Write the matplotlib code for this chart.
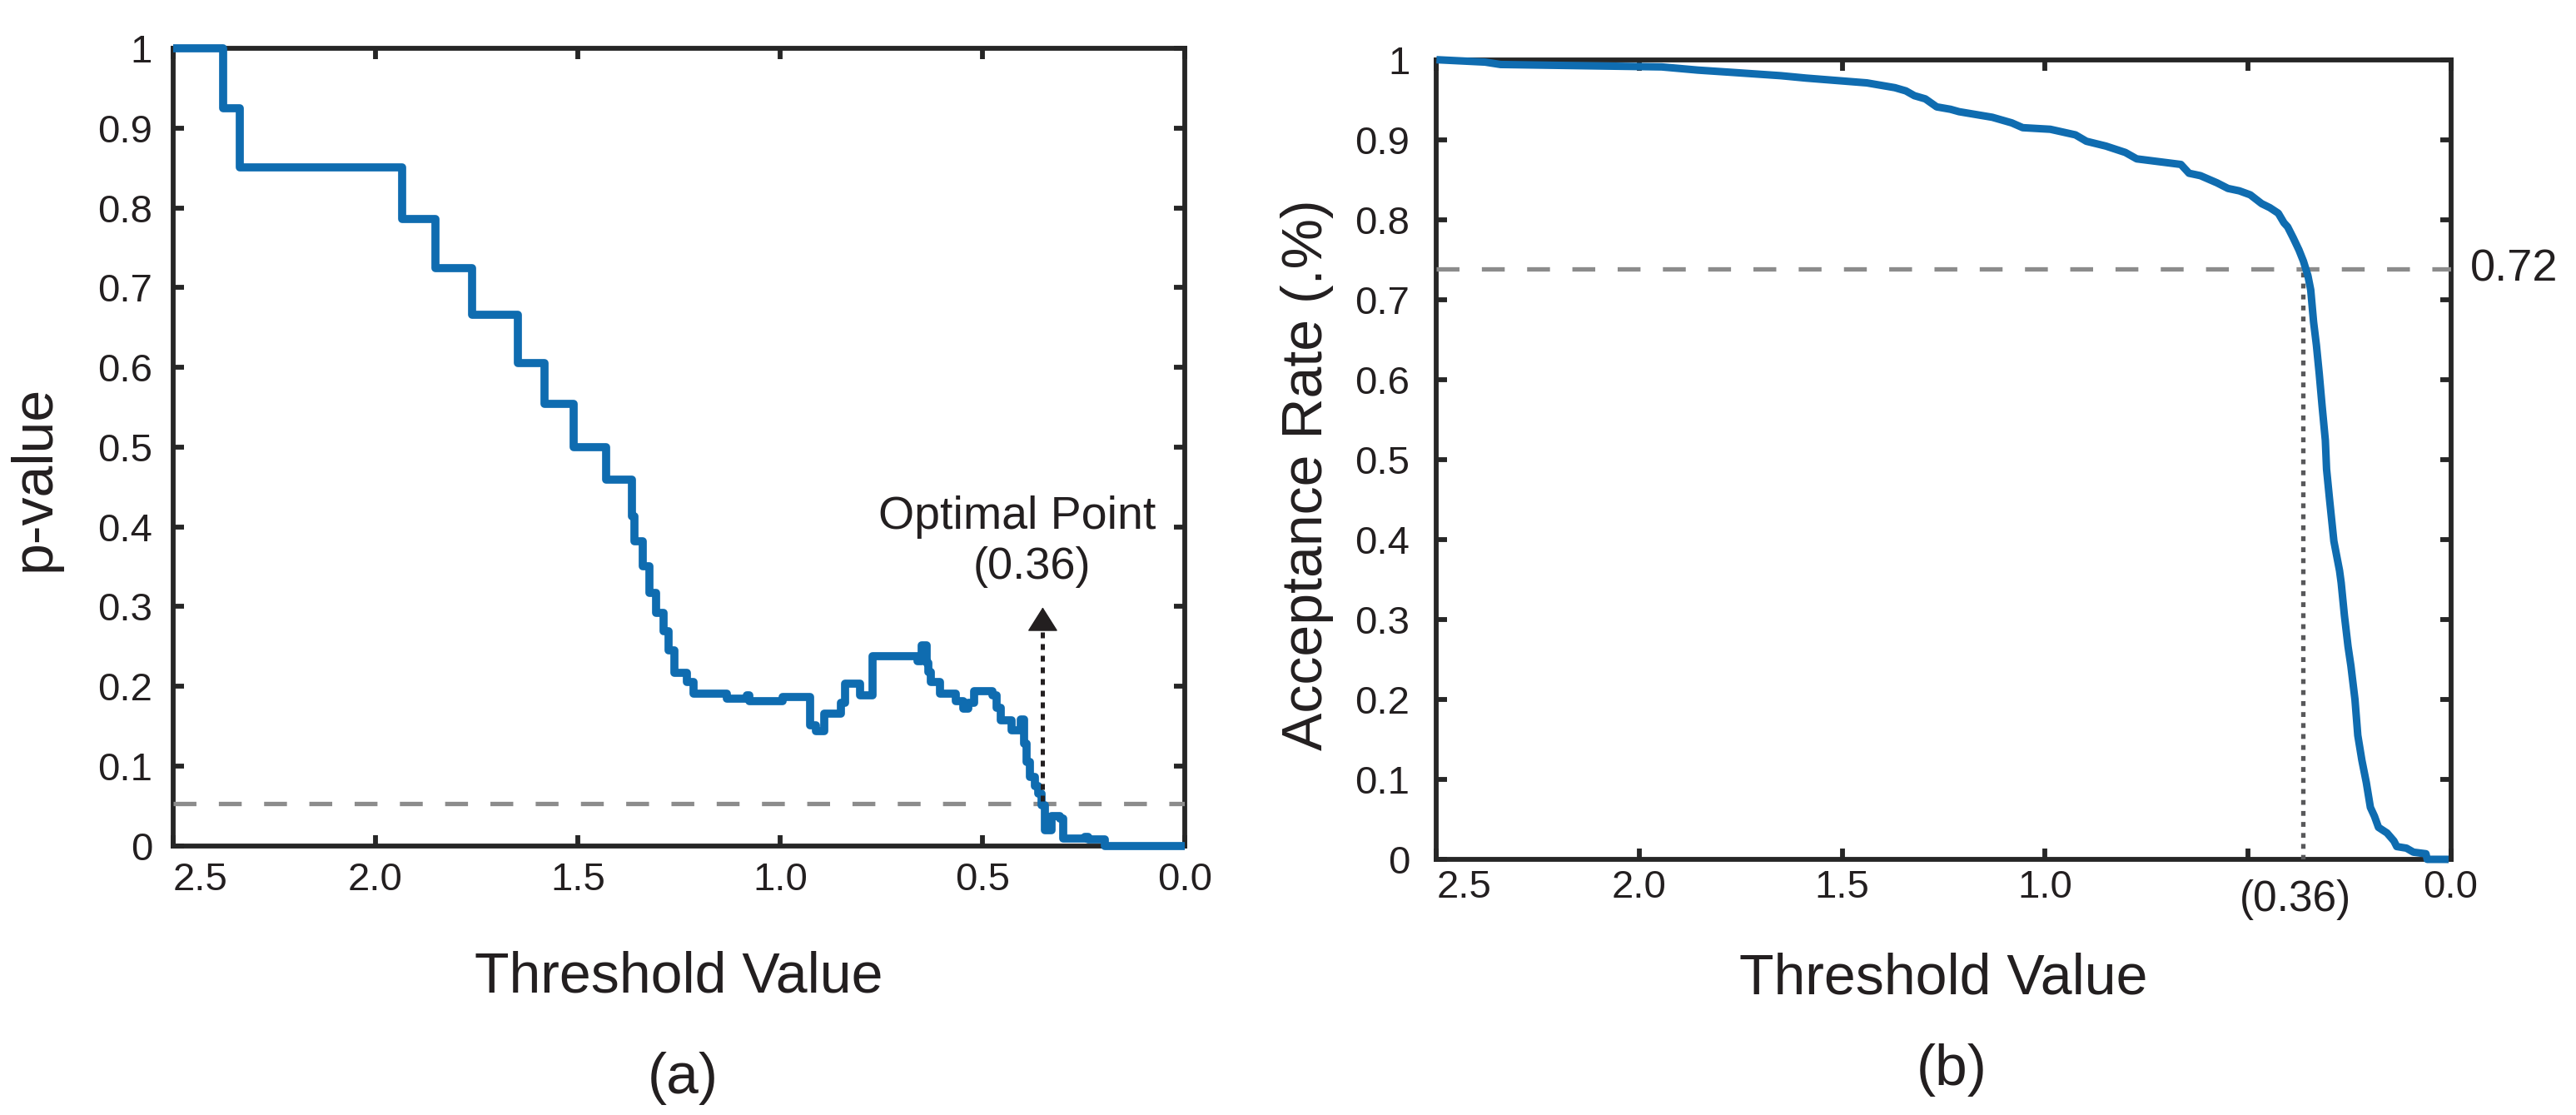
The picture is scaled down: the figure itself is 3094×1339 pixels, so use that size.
import numpy as np
import matplotlib
matplotlib.use('Agg')
import matplotlib.pyplot as plt
from matplotlib import transforms

plt.rcParams['font.family'] = ['Liberation Sans', 'DejaVu Sans']

# %% datos

# (a) p-value vs threshold (escalones, el valor se mantiene hasta el siguiente umbral)
umbral_a = [2.500, 2.377, 2.336, 1.935, 1.851, 1.762, 1.648, 1.582, 1.511, 1.430,
            1.366, 1.360, 1.340, 1.323, 1.306, 1.289, 1.275, 1.261, 1.230, 1.213,
            1.131, 1.083, 1.076, 0.994, 0.925, 0.912, 0.891, 0.850, 0.840, 0.802,
            0.771, 0.661, 0.651, 0.638, 0.634, 0.627, 0.606, 0.566, 0.548, 0.534,
            0.520, 0.476, 0.466, 0.455, 0.428, 0.406, 0.397, 0.390, 0.383, 0.370,
            0.363, 0.353, 0.346, 0.330, 0.308, 0.301, 0.246, 0.239, 0.198, 0.000]
pvalor_a = [1.000, 0.925, 0.851, 0.786, 0.724, 0.666, 0.605, 0.554, 0.500, 0.459,
            0.413, 0.382, 0.351, 0.317, 0.292, 0.269, 0.245, 0.217, 0.205, 0.191,
            0.184, 0.189, 0.181, 0.187, 0.151, 0.144, 0.166, 0.179, 0.203, 0.189,
            0.238, 0.232, 0.251, 0.229, 0.218, 0.205, 0.191, 0.181, 0.172, 0.179,
            0.194, 0.189, 0.173, 0.157, 0.145, 0.158, 0.128, 0.105, 0.086, 0.075,
            0.065, 0.051, 0.020, 0.037, 0.034, 0.009, 0.011, 0.008, 0.000, 0.000]

# (b) acceptance rate vs threshold
umbral_b = [2.500, 2.380, 2.342, 1.945, 1.856, 1.767, 1.651, 1.589, 1.514, 1.439,
            1.370, 1.343, 1.322, 1.295, 1.267, 1.233, 1.212, 1.130, 1.082, 1.055,
            0.987, 0.925, 0.898, 0.850, 0.802, 0.774, 0.665, 0.645, 0.617, 0.576,
            0.549, 0.521, 0.494, 0.466, 0.446, 0.425, 0.411, 0.402, 0.388, 0.374,
            0.363, 0.352, 0.345, 0.338, 0.331, 0.324, 0.317, 0.309, 0.306, 0.299,
            0.288, 0.274, 0.270, 0.262, 0.253, 0.246, 0.236, 0.229, 0.219, 0.208,
            0.198, 0.188, 0.178, 0.157, 0.140, 0.133, 0.109, 0.092, 0.061, 0.058,
            0.005]
acept_b = [1.000, 0.997, 0.994, 0.991, 0.987, 0.984, 0.980, 0.977, 0.974, 0.971,
           0.965, 0.961, 0.955, 0.951, 0.941, 0.938, 0.935, 0.928, 0.921, 0.915,
           0.913, 0.906, 0.898, 0.892, 0.884, 0.876, 0.869, 0.858, 0.855, 0.846,
           0.839, 0.836, 0.831, 0.820, 0.815, 0.808, 0.796, 0.791, 0.777, 0.762,
           0.748, 0.730, 0.712, 0.672, 0.643, 0.607, 0.567, 0.524, 0.488, 0.452,
           0.398, 0.361, 0.346, 0.305, 0.266, 0.242, 0.200, 0.155, 0.124, 0.096,
           0.065, 0.054, 0.040, 0.033, 0.023, 0.016, 0.014, 0.009, 0.007, 0.000,
           0.000]

corte_p = 0.053
corte_acept = 0.738
optimo_a = 0.351
optimo_b = 0.364
flecha_base = 0.271
flecha_punta = 0.299

ticks_x = [2.5, 2.0, 1.5, 1.0, 0.5, 0.0]
etiquetas_x_a = ['2.5', '2.0', '1.5', '1.0', '0.5', '0.0']
etiquetas_x_b = ['2.5', '2.0', '1.5', '1.0', '', '0.0']
ticks_y = [0, 0.1, 0.2, 0.3, 0.4, 0.5, 0.6, 0.7, 0.8, 0.9, 1.0]
etiquetas_y = ['0', '0.1', '0.2', '0.3', '0.4', '0.5', '0.6', '0.7', '0.8', '0.9', '1']

# %% estilo

azul = '#0f6cb0'
texto = '#231f20'
eje = '#262626'
gris = '#8c8c8c'

fig = plt.figure(figsize=(30.94, 13.39), dpi=100)
ax1 = fig.add_axes([0.06723, 0.24145, 0.39270, 0.71524])
ax2 = fig.add_axes([0.55763, 0.22928, 0.39373, 0.71718])


def estilo(ax, etiquetas_x, pad_x, pad_y):
    ax.set_xlim(2.5, 0.0)
    ax.set_ylim(0, 1)
    ax.set_xticks(ticks_x)
    ax.set_xticklabels(etiquetas_x)
    ax.set_yticks(ticks_y)
    ax.set_yticklabels(etiquetas_y)
    ax.xaxis.get_ticklabels()[0].set_horizontalalignment('left')
    for s in ax.spines.values():
        s.set_linewidth(4.2)
        s.set_color(eje)
    ax.tick_params(axis='both', direction='in', top=True, right=True,
                   length=9.5, width=4.2, color=eje, labelsize=34,
                   labelcolor=texto)
    ax.tick_params(axis='x', pad=pad_x)
    ax.tick_params(axis='y', pad=pad_y)


# %% (a)

estilo(ax1, etiquetas_x_a, 14, 18)
ax1.plot(umbral_a, pvalor_a, drawstyle='steps-post', color=azul, lw=7.0,
         solid_joinstyle='round', solid_capstyle='butt', clip_on=False, zorder=4)
ax1.axhline(corte_p, color=gris, lw=3.8, linestyle=(0, (5.2, 5.1)), zorder=3)
ax1.plot([optimo_a, optimo_a], [corte_p + 0.003, flecha_base], color=texto,
         lw=3.6, linestyle=(0, (1.4, 1.4)), zorder=5)
ax1.annotate('', xy=(optimo_a, flecha_punta), xytext=(optimo_a, flecha_base),
             arrowprops=dict(arrowstyle='-|>,head_length=19,head_width=12',
                             mutation_scale=1, lw=1, color=texto,
                             shrinkA=0, shrinkB=0), zorder=5)
ax1.text(0.4136, 0.3975, 'Optimal Point', fontsize=40, color=texto,
         ha='center', va='baseline')
ax1.text(0.3786, 0.3349, '(0.36)', fontsize=39, color=texto,
         ha='center', va='baseline')
ax1.set_xlabel('Threshold Value', fontsize=49, color=texto)
ax1.xaxis.set_label_coords(0.5, -0.1316)
ax1.set_ylabel('p-value', fontsize=49, color=texto)
ax1.yaxis.set_label_coords(-0.1103, 0.461)

# %% (b)

estilo(ax2, etiquetas_x_b, 9, 23)
ax2.plot(umbral_b, acept_b, color=azul, lw=6.5, solid_joinstyle='round',
         solid_capstyle='butt', clip_on=False, zorder=4)
ax2.axhline(corte_acept, color=gris, lw=3.8, linestyle=(0, (5.2, 5.1)), zorder=3)
ax2.plot([optimo_b, optimo_b], [0, corte_acept], color='#58585a', lw=3.8,
         linestyle=(0, (1.1, 1.4)), zorder=3)
trans_y = transforms.blended_transform_factory(ax2.transAxes, ax2.transData)
ax2.text(1.0188, corte_acept, '0.72', fontsize=39, color=texto,
         ha='left', va='center', transform=trans_y)
trans_x = transforms.blended_transform_factory(ax2.transData, ax2.transAxes)
ax2.text(0.382, -0.05, '(0.36)', fontsize=37, color=texto,
         ha='center', va='center', transform=trans_x)
ax2.set_xlabel('Threshold Value', fontsize=49, color=texto)
ax2.xaxis.set_label_coords(0.5, -0.1166)
ax2.set_ylabel('Acceptance Rate (.%)', fontsize=49, color=texto)
ax2.yaxis.set_label_coords(-0.1015, 0.481)

fig.text(0.265, 0.033, '(a)', fontsize=50, color=texto, ha='center', va='center')
fig.text(0.7576, 0.040, '(b)', fontsize=50, color=texto, ha='center', va='center')

plt.savefig('out.png', dpi=100)
plt.close()
